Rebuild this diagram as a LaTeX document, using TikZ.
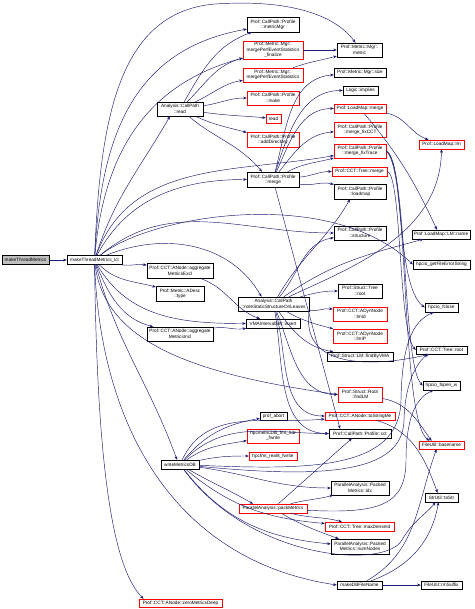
\documentclass[tikz,border=0pt]{standalone}
\usepackage{fontspec}
\setmainfont{Liberation Sans}
\usetikzlibrary{arrows.meta}
\definecolor{edgeblue}{RGB}{25,25,112}
\newcommand\dxfont{\fontsize{4.7}{5.4}\selectfont}
\begin{document}
\begin{tikzpicture}[x=1pt,y=1pt,>={Stealth[length=3.6pt,width=2.8pt]},
 fn/.style 2 args={draw=black,fill=white,line width=.45pt,inner sep=.5pt,align=center,
   font=\dxfont,minimum width=#1,minimum height=#2},
 fnr/.style 2 args={fn={#1}{#2},draw=red},
 call/.style={->,draw=edgeblue,line width=.45pt}]
 \useasboundingbox (0,0) rectangle (474,-609);
 % callers on the left
 \node[fn={47}{9},fill=gray!50] (mTM) at (25.5,-260) {makeThreadMetrics};
 \node[fn={55}{9}] (mTMl) at (94.5,-260) {makeThreadMetrics\_lcl};
 \node[fn={46}{14}] (acpRead) at (180,-109) {Analysis::CallPath\\::read};
 \node[fn={66}{15}] (aggExcl) at (180,-271) {Prof::CCT::ANode::aggregate\\MetricsExcl};
 \node[fn={48}{15}] (adescType) at (180,-293.5) {Prof::Metric::ADesc\\::type};
 \node[fn={66}{14}] (aggIncl) at (180,-334) {Prof::CCT::ANode::aggregate\\MetricsIncl};
 \node[fn={38}{9}] (wMDB) at (180,-464.5) {writeMetricsDB};
 \node[fnr={83}{8}] (zeroMD) at (180.5,-603) {Prof::CCT::ANode::zeroMetricsDeep};
 % third column
 \node[fn={52}{15}] (metricMgr) at (273,-24.5) {Prof::CallPath::Profile\\::metricMgr};
 \node[fnr={60}{18}] (mpesFin) at (273,-50) {Prof::Metric::Mgr::\\mergePerfEventStatistics\\\_finalize};
 \node[fnr={60}{14}] (mpes) at (273,-75) {Prof::Metric::Mgr::\\mergePerfEventStatistics};
 \node[fnr={52}{14}] (pMake) at (273,-98) {Prof::CallPath::Profile\\::make};
 \node[fnr={15}{9}] (readN) at (273.5,-118.5) {read};
 \node[fnr={52}{15}] (addDir) at (273,-139.5) {Prof::CallPath::Profile\\::addDirectory};
 \node[fn={52}{15}] (pMerge) at (273,-179.5) {Prof::CallPath::Profile\\::merge};
 \node[fn={71}{14}] (noteSS) at (273.5,-304) {Analysis::CallPath\\::noteStaticStructureOnLeaves};
 \node[fn={54}{9}] (vmaIns) at (273,-323.5) {VMAIntervalSet::insert};
 \node[fn={27}{8}] (profAbort) at (273.5,-416) {prof\_abort};
 \node[fnr={52}{14}] (fmtHdr) at (273,-436) {hpcmetricDB\_fmt\_hdr\\\_fwrite};
 \node[fnr={48}{8}] (real8) at (273,-456) {hpcfmt\_real8\_fwrite};
 \node[fnr={68}{9}] (packM) at (273,-508.5) {ParallelAnalysis::packMetrics};
 % fourth column
 \node[fn={45}{14}] (mgrMetric) at (359.5,-50) {Prof::Metric::Mgr::\\metric};
 \node[fn={52}{9}] (mgrSize) at (360,-72.5) {Prof::Metric::Mgr::size};
 \node[fn={35}{9}] (implies) at (360.5,-90.5) {Logic::implies};
 \node[fnr={52}{9}] (lmMerge) at (360,-108.5) {Prof::LoadMap::merge};
 \node[fnr={52}{15}] (fixCCT) at (360,-129.5) {Prof::CallPath::Profile\\::merge\_fixCCT};
 \node[fnr={52}{14}] (fixTrace) at (360,-151) {Prof::CallPath::Profile\\::merge\_fixTrace};
 \node[fnr={55}{9}] (treeMerge) at (359.5,-171.5) {Prof::CCT::Tree::merge};
 \node[fn={52}{15}] (pLoadmap) at (360,-191.5) {Prof::CallPath::Profile\\::loadmap};
 \node[fn={52}{14}] (pStruct) at (360,-233) {Prof::CallPath::Profile\\::structure};
 \node[fn={44}{14}] (stRoot) at (360,-291) {Prof::Struct::Tree\\::root};
 \node[fnr={54}{14}] (lmId) at (360,-314) {Prof::CCT::ADynNode\\::lmId};
 \node[fnr={54}{14}] (lmIP) at (360,-336) {Prof::CCT::ADynNode\\::lmIP};
 \node[fn={66}{9}] (findVMA) at (360,-356.5) {Prof::Struct::LM::findByVMA};
 \node[fnr={44}{15}] (findLM) at (360,-394.5) {Prof::Struct::Root\\::findLM};
 \node[fnr={70}{8}] (toStrMe) at (360,-416) {Prof::CCT::ANode::toStringMe};
 \node[fn={62}{9}] (pCct) at (360,-433.5) {Prof::CallPath::Profile::cct};
 \node[fn={58}{14}] (pmIdx) at (360,-488) {ParallelAnalysis::Packed\\Metrics::idx};
 \node[fnr={69}{9}] (maxDense) at (359.5,-526.5) {Prof::CCT::Tree::maxDenseId};
 \node[fn={58}{15}] (pmNum) at (360,-546.5) {ParallelAnalysis::Packed\\Metrics::numNodes};
 \node[fn={45}{8}] (mkDBFN) at (359.5,-585) {makeDBFileName};
 % fifth column
 \node[fnr={45}{9}] (lmLm) at (441.5,-144.5) {Prof::LoadMap::lm};
 \node[fn={58}{9}] (lmName) at (441,-234.5) {Prof::LoadMap::LM::name};
 \node[fn={57}{9}] (ferr) at (441.5,-264.5) {hpcio\_getFileErrorString};
 \node[fn={33}{9}] (fclose) at (441.5,-307.5) {hpcio\_fclose};
 \node[fn={51}{8}] (treeRoot) at (441.5,-350) {Prof::CCT::Tree::root};
 \node[fn={37}{9}] (fopen) at (441.5,-385.5) {hpcio\_fopen\_w};
 \node[fnr={45}{8}] (basename) at (441.5,-445) {FileUtil::basename};
 \node[fn={33}{9}] (toStr) at (441.5,-497.5) {StrUtil::toStr};
 \node[fn={41}{8}] (rmSuffix) at (441.5,-585) {FileUtil::rmSuffix};
 % makeThreadMetrics and makeThreadMetrics_lcl
 \draw[call] (mTM) -- (mTMl);
 \draw[call] (mTMl) .. controls (100,-120) and (118,-12) .. (215,-4)
    .. controls (290,1) and (335,-15) .. ([xshift=-4]mgrMetric.north);
 \draw[call] (mTMl) to[out=87,in=190,looseness=1.1] (metricMgr);
 \draw[call] (mTMl) to[out=85,in=195,looseness=1.05] (mpesFin);
 \draw[call] (mTMl) to[out=72,in=240] ([xshift=-10]acpRead.south);
 \draw[call] (mTMl) to[out=70,in=190] (fixTrace);
 \draw[call] (mTMl) to[out=62,in=180] (pMerge);
 \draw[call] (mTMl) .. controls (150,-215) and (330,-185) .. (ferr.west);
 \draw[call] (mTMl) to[out=40,in=180] (pStruct);
 \draw[call] (mTMl) to[out=22,in=120] ([xshift=-12]noteSS.north);
 \draw[call] (mTMl) to[out=-10,in=170] (aggExcl);
 \draw[call] (mTMl) to[out=-45,in=165] (adescType);
 \draw[call] (mTMl) to[out=-60,in=180] (vmaIns);
 \draw[call] (mTMl) to[out=-68,in=165] (aggIncl);
 \draw[call] (mTMl) .. controls (105,-345) and (200,-375) .. (findLM.west);
 \draw[call] (mTMl) to[out=-75,in=110] ([xshift=-3]wMDB.north);
 \draw[call] (mTMl) .. controls (100,-420) and (170,-560) .. (mkDBFN.west);
 \draw[call] (mTMl) .. controls (97,-450) and (110,-565) .. ([xshift=-37]zeroMD.north);
 % Analysis::CallPath::read
 \draw[call] (acpRead) to[out=60,in=200] (metricMgr);
 \draw[call] (acpRead) to[out=45,in=195] (mpesFin);
 \draw[call] (acpRead) to[out=25,in=190] (mpes);
 \draw[call] (acpRead) to[out=8,in=180] (pMake);
 \draw[call] (acpRead) to[out=-8,in=175] (readN);
 \draw[call] (acpRead) to[out=-25,in=165] (addDir);
 \draw[call] (acpRead) to[out=-40,in=130] ([xshift=-11]pMerge.north);
 \draw[call] (mpesFin) -- (mgrMetric);
 \draw[call] (mpes) to[out=20,in=195] (mgrMetric);
 % Prof::CallPath::Profile::merge
 \draw[call] (pMerge) to[out=75,in=185] (mgrSize);
 \draw[call] (pMerge) to[out=72,in=180] (implies);
 \draw[call] (pMerge) to[out=66,in=180] (lmMerge);
 \draw[call] (pMerge) to[out=52,in=185] (fixCCT);
 \draw[call] (pMerge) to[out=28,in=195] (fixTrace);
 \draw[call] (pMerge) to[out=5,in=180] (treeMerge);
 \draw[call] (pMerge) to[out=-10,in=165] (pLoadmap);
 \draw[call] (pMerge) -- ([xshift=-20]pCct.north);
 \draw[call] (lmMerge) to[out=-10,in=160] (lmLm);
 \draw[call] (lmMerge) to[out=-50,in=115] ([xshift=-4]lmName.north);
 % merge_fixTrace and Tree::merge
 \draw[call] (fixTrace.east) .. controls (405,-160) and (395,-285) .. (fclose.west);
 \draw[call] (fixTrace.east) .. controls (408,-165) and (402,-365) .. (fopen.west);
 \draw[call] (fixTrace.east) .. controls (410,-170) and (400,-420) .. ([xshift=-12]basename.north);
 \draw[call] (treeMerge.east) .. controls (402,-175) and (398,-330) .. (treeRoot.west);
 % Analysis::CallPath::noteStaticStructureOnLeaves
 \draw[call] (noteSS) to[out=60,in=-120] ([xshift=-10]pLoadmap.south);
 \draw[call] (noteSS) to[out=50,in=190] (pStruct);
 \draw[call] (noteSS) .. controls (350,-268) and (440,-235) .. (lmLm.south);
 \draw[call] (noteSS) to[out=35,in=195] (lmName);
 \draw[call] (noteSS) to[out=15,in=180] (stRoot);
 \draw[call] (noteSS) to[out=-10,in=170] (lmId);
 \draw[call] (noteSS) to[out=-30,in=165] (lmIP);
 \draw[call] (noteSS) to[out=-55,in=170] (findVMA);
 \draw[call] (noteSS) to[out=-68,in=180] (findLM);
 \draw[call] (noteSS) to[out=-74,in=180] (toStrMe);
 \draw[call] (noteSS) to[out=-80,in=180] (pCct);
 \draw[call] (noteSS.south east) .. controls (300,-372) and (380,-366) .. ([xshift=-12]treeRoot.south);
 \draw[call] (aggExcl) to[out=-20,in=160] (vmaIns);
 \draw[call] (aggIncl) to[out=10,in=190] (vmaIns);
 \draw[call] (findLM) to[out=-10,in=125] ([xshift=-10]basename.north);
 \draw[call] (toStrMe) to[out=-15,in=110] ([xshift=-4]toStr.north);
 % writeMetricsDB
 \draw[call] (wMDB) to[out=50,in=190] (profAbort);
 \draw[call] (wMDB) to[out=35,in=190] (fmtHdr);
 \draw[call] (wMDB) to[out=12,in=180] (real8);
 \draw[call] (wMDB) to[out=65,in=185] (toStrMe);
 \draw[call] (wMDB) to[out=45,in=180] (pCct);
 \draw[call] (wMDB) to[out=-30,in=150] ([xshift=-20]packM.north);
 \draw[call] (wMDB) to[out=-8,in=180] (pmIdx);
 \draw[call] (wMDB) to[out=-40,in=175] (maxDense);
 \draw[call] (wMDB) to[out=-52,in=175] (pmNum);
 \draw[call] (wMDB) .. controls (320,-478) and (403,-475) .. (404,-420)
    .. controls (405,-385) and (415,-365) .. ([xshift=-14]treeRoot.south);
 \draw[call] (wMDB) .. controls (310,-470) and (400,-470) .. (401,-400)
    .. controls (402,-345) and (412,-322) .. ([xshift=-8]fclose.south);
 \draw[call] (wMDB) .. controls (250,-560) and (385,-570) .. (402,-540)
    .. controls (412,-522) and (428,-512) .. ([xshift=-6]toStr.south);
 % ParallelAnalysis::packMetrics
 \draw[call] (packM) -- ([xshift=-8]pCct.south);
 \draw[call] (packM) to[out=15,in=195] (pmIdx);
 \draw[call] (packM) to[out=-15,in=165] (maxDense);
 \draw[call] (packM) to[out=-30,in=160] (pmNum);
 \draw[call] (packM) .. controls (380,-514) and (406,-505) .. (406,-460)
    .. controls (406,-420) and (415,-398) .. ([xshift=-8]fopen.south);
 % makeDBFileName
 \draw[call] (mkDBFN) to[out=30,in=-110] ([xshift=-5]basename.south);
 \draw[call] (mkDBFN) to[out=20,in=-100] ([xshift=-3]toStr.south);
 \draw[call] (mkDBFN) -- (rmSuffix);
\end{tikzpicture}
\end{document}
